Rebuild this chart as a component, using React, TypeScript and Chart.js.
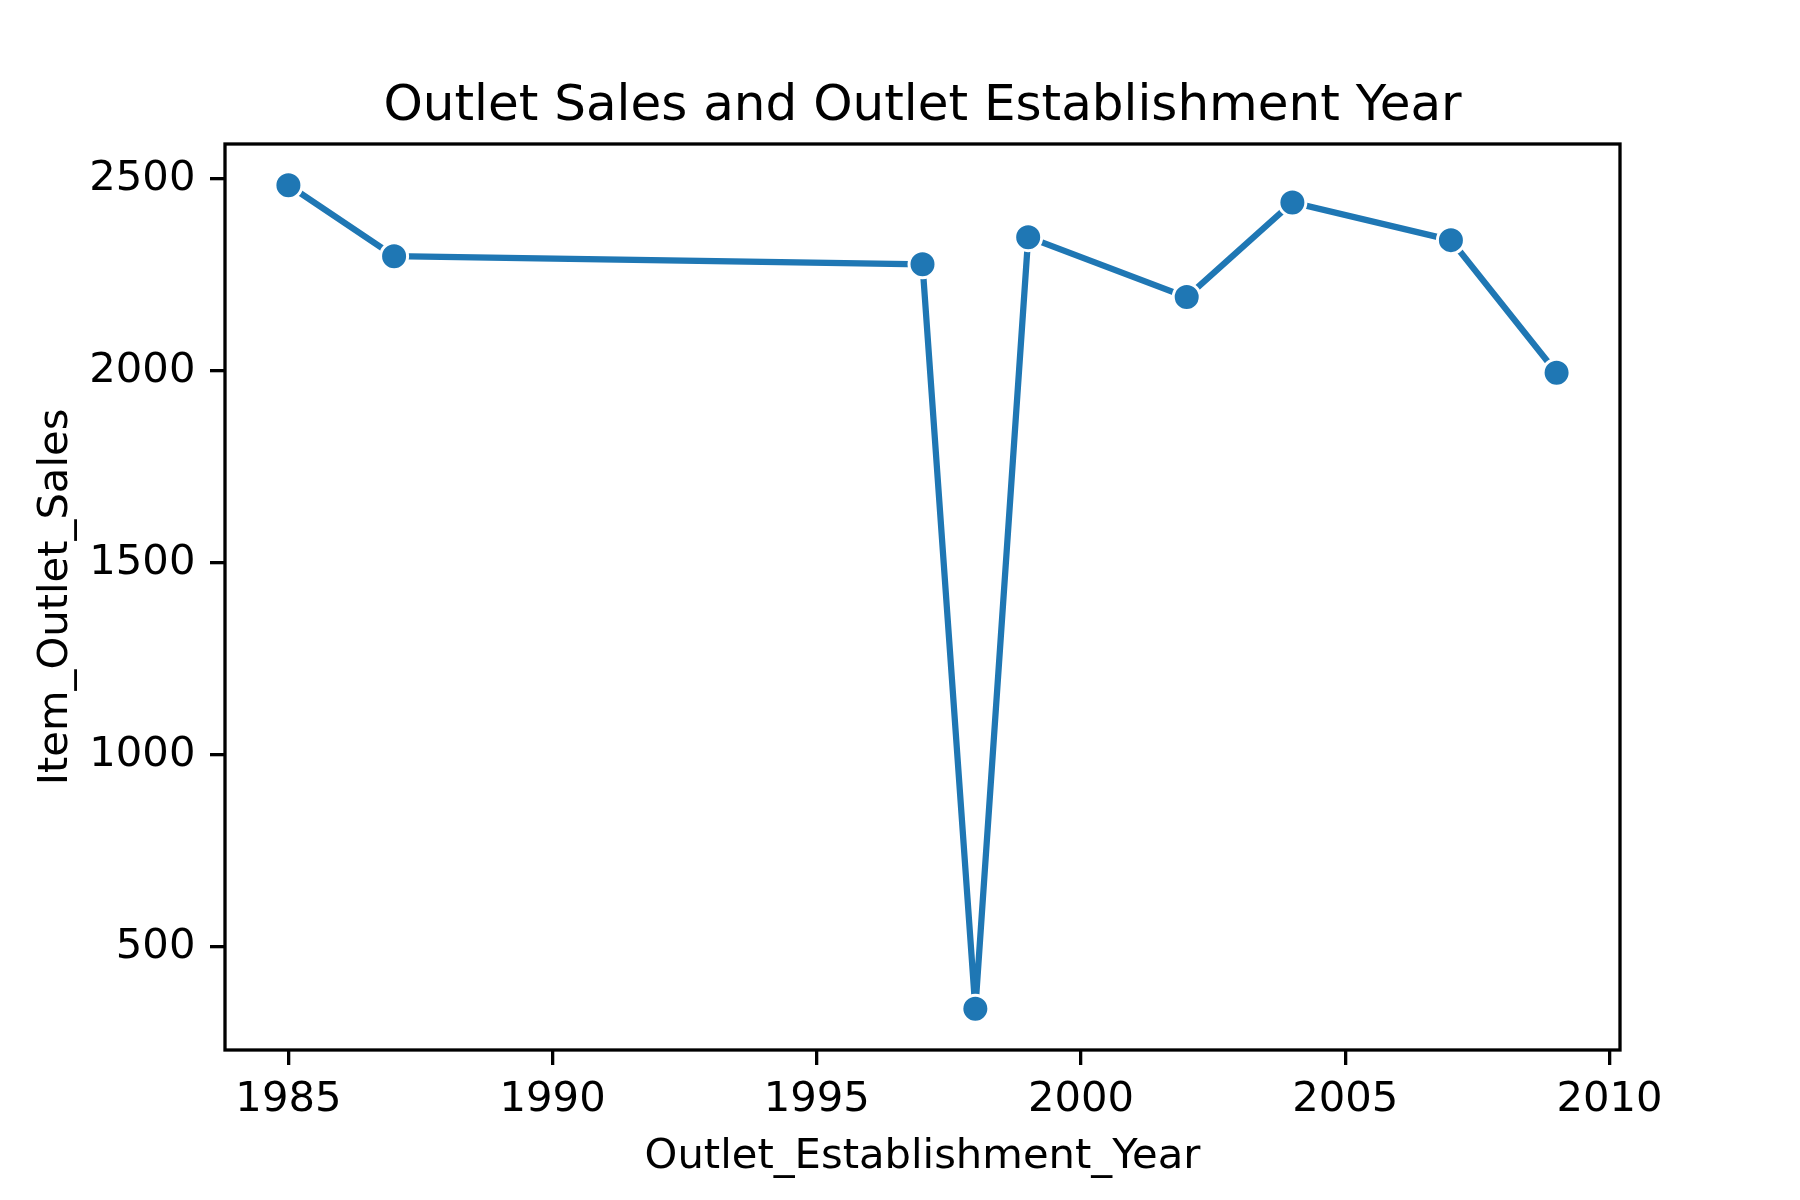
import React, { useEffect, useRef } from "react";
import { Chart, registerables } from "chart.js";
Chart.register(...registerables);

const years = [1985, 1987, 1997, 1998, 1999, 2002, 2004, 2007, 2009];
const sales = [2483.7, 2299.0, 2277.8, 339.4, 2348.4, 2192.4, 2438.8, 2340.7, 1995.5];
const chartTitle = "Outlet Sales and Outlet Establishment Year";
const xLabel = "Outlet_Establishment_Year";
const yLabel = "Item_Outlet_Sales";
const xTicks = [1985, 1990, 1995, 2000, 2005, 2010];
const yTicks = [500, 1000, 1500, 2000, 2500];

const FONT = "'DejaVu Sans', sans-serif";
const BLUE = "#1f77b4";

export default function App() {
  const ref = useRef<HTMLCanvasElement | null>(null);
  useEffect(() => {
    if (!ref.current) return;
    const frame = {
      id: "frame",
      afterDraw(chart: any) {
        const { ctx, chartArea } = chart;
        ctx.save();
        ctx.strokeStyle = "#000";
        ctx.lineWidth = 3.3;
        ctx.strokeRect(chartArea.left, chartArea.top, chartArea.right - chartArea.left, chartArea.bottom - chartArea.top);
        ctx.font = `50px ${FONT}`;
        ctx.fillStyle = "#000";
        ctx.textAlign = "center";
        ctx.textBaseline = "alphabetic";
        ctx.fillText(chartTitle, (chartArea.left + chartArea.right) / 2, chartArea.top - 24);
        ctx.restore();
      },
    };
    const chart = new Chart(ref.current, {
      type: "line",
      data: {
        datasets: [
          {
            data: years.map((y, i) => ({ x: y, y: sales[i] })),
            borderColor: BLUE,
            borderWidth: 6.25,
            backgroundColor: BLUE,
            pointBackgroundColor: BLUE,
            pointBorderColor: "#fff",
            pointBorderWidth: 3,
            pointRadius: 13.5,
            tension: 0,
            fill: false,
          },
        ],
      },
      options: {
        animation: false,
        responsive: false,
        devicePixelRatio: 1,
        layout: { padding: { left: 0, top: 144, right: 180, bottom: 0 } },
        plugins: { legend: { display: false }, tooltip: { enabled: false }, title: { display: false } },
        scales: {
          x: {
            type: "linear",
            min: 1983.8,
            max: 2010.2,
            afterFit: (s: any) => { s.height = 150; },
            afterBuildTicks: (s: any) => { s.ticks = xTicks.map((v) => ({ value: v })); },
            border: { display: false },
            grid: { drawOnChartArea: false, drawTicks: true, tickLength: 15, tickWidth: 3.3, tickColor: "#000", color: "#000", lineWidth: 3.3 },
            ticks: { color: "#000", font: { family: FONT, size: 41.7 }, padding: 10, maxRotation: 0, callback: (v: any) => String(v) },
            title: { display: true, text: xLabel, color: "#000", font: { family: FONT, size: 41.7 }, padding: { top: 0, bottom: 18 } },
          },
          y: {
            type: "linear",
            min: 232,
            max: 2591,
            afterFit: (s: any) => { s.width = 225; },
            afterBuildTicks: (s: any) => { s.ticks = yTicks.map((v) => ({ value: v })); },
            border: { display: false },
            grid: { drawOnChartArea: false, drawTicks: true, tickLength: 15, tickWidth: 3.3, tickColor: "#000", color: "#000", lineWidth: 3.3 },
            ticks: { color: "#000", font: { family: FONT, size: 41.7 }, padding: 14.6, callback: (v: any) => String(v) },
            title: { display: true, text: yLabel, color: "#000", font: { family: FONT, size: 41.7 }, padding: { top: 31, bottom: 0 } },
          },
        },
      },
      plugins: [frame],
    });
    return () => chart.destroy();
  }, []);
  return (
    <div style={{ position: "absolute", left: 0, top: 0, width: 1800, height: 1200, background: "#fff" }}>
      <canvas ref={ref} width={1800} height={1200} style={{ width: 1800, height: 1200 }} />
    </div>
  );
}
